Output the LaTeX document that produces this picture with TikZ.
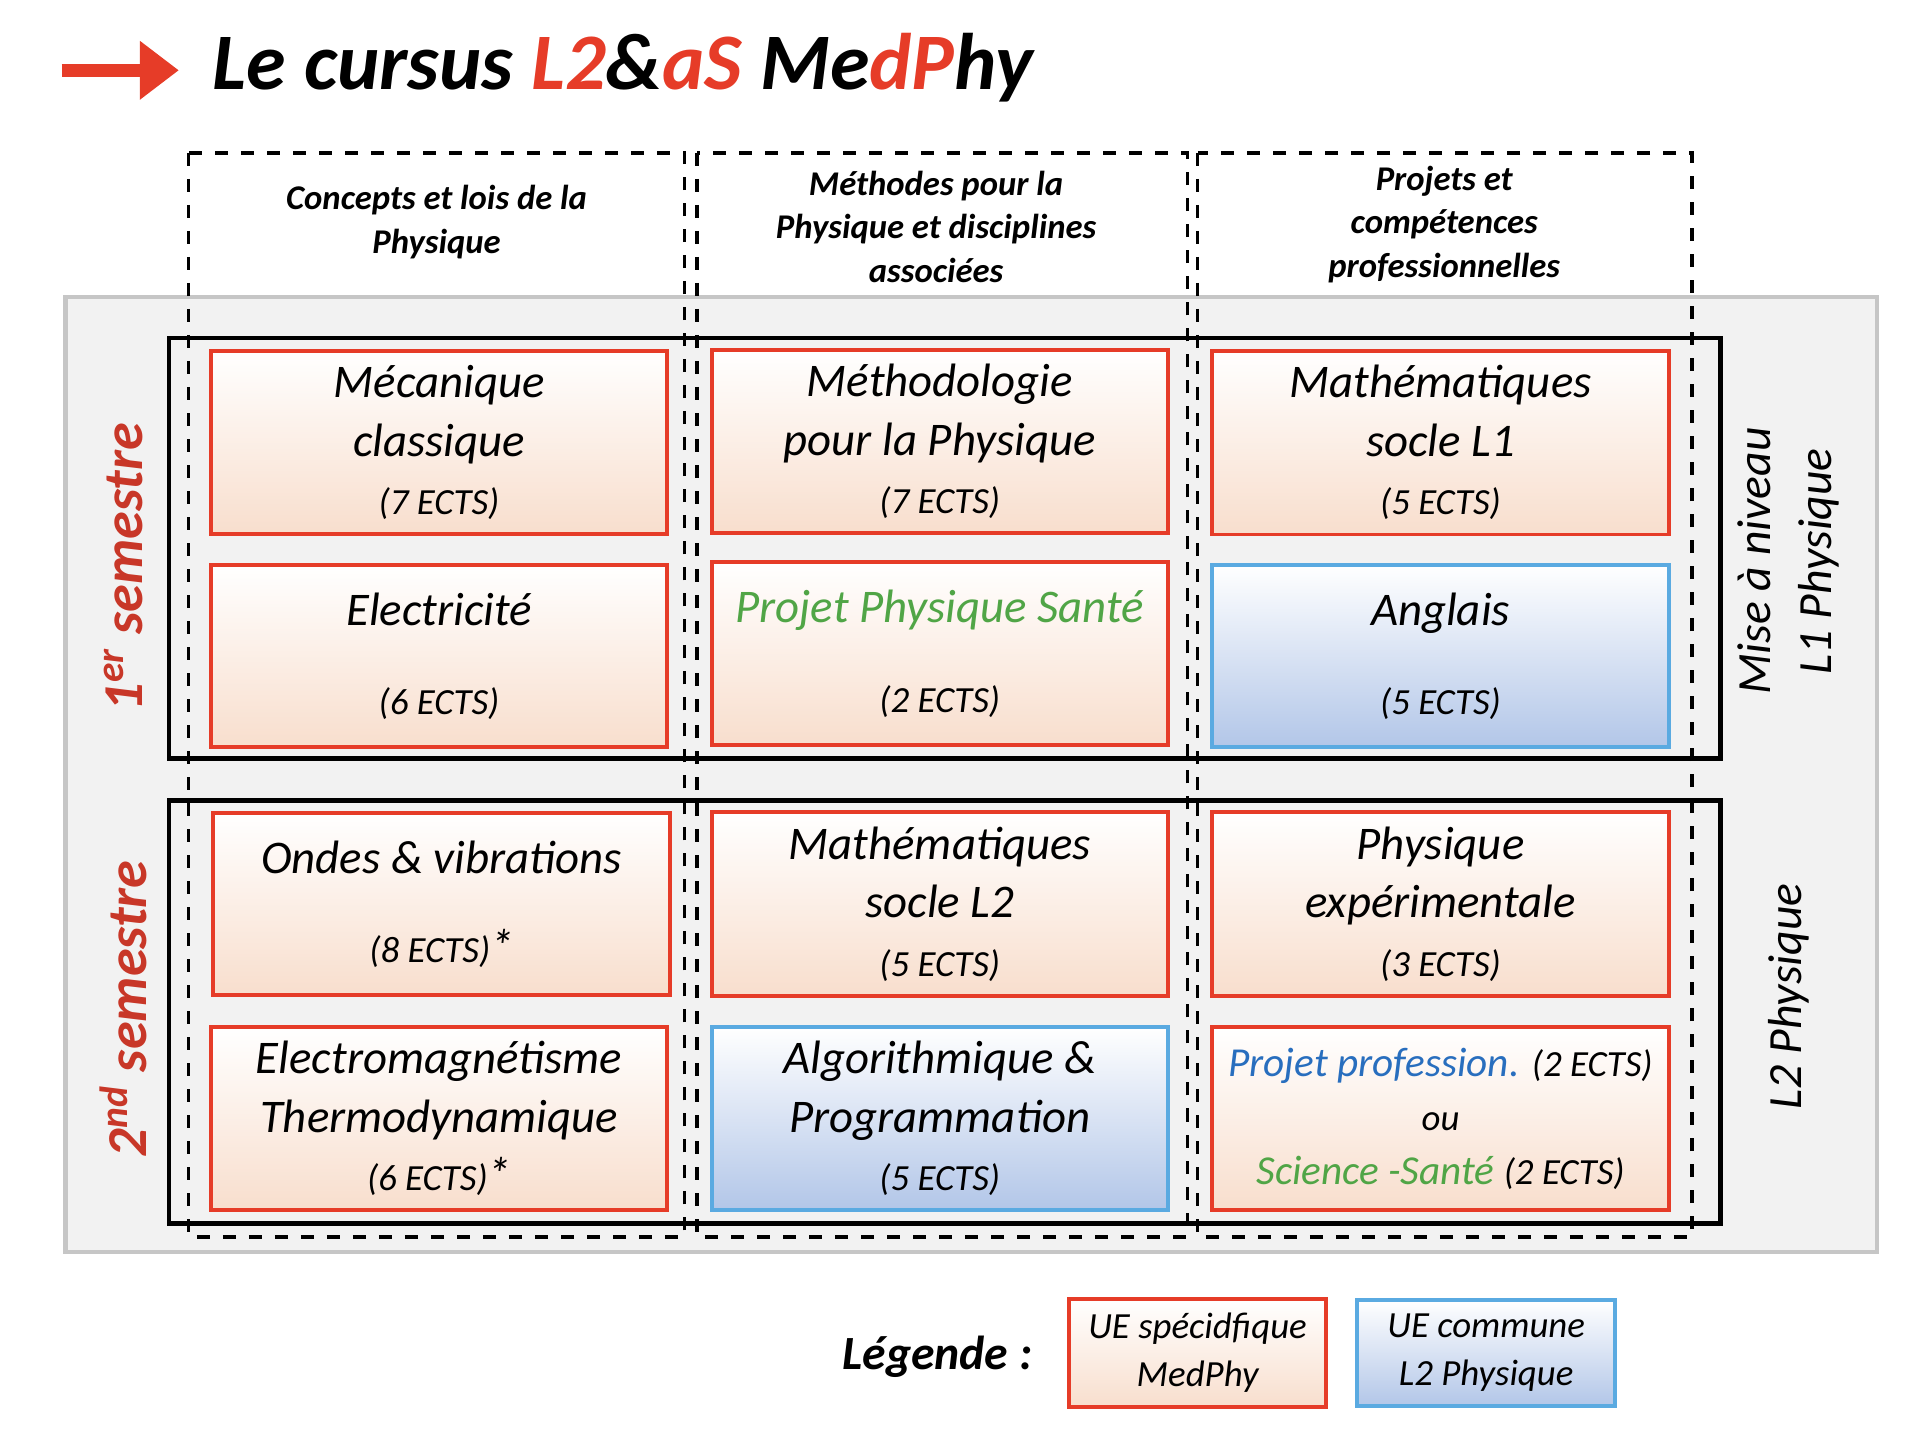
\documentclass[tikz,border=0pt]{standalone}
\usepackage{fontspec}
\usetikzlibrary{arrows.meta}
\setmainfont{Carlito}
\definecolor{uered}{RGB}{230,60,40}
\definecolor{ueblue}{RGB}{90,170,225}
\definecolor{peach}{RGB}{248,222,205}
\definecolor{lblue}{RGB}{178,198,232}
\definecolor{semred}{RGB}{200,55,40}
\definecolor{santegreen}{RGB}{80,165,70}
\definecolor{profblue}{RGB}{40,110,190}
\begin{document}
\begin{tikzpicture}[x=0.1mm,y=-0.1mm,
  red ue/.style={draw=uered, line width=0.9pt, top color=white, middle color=white, bottom color=peach, minimum width=37mm, minimum height=14.8mm, align=center, font=\itshape\fontsize{10.8}{13.5}\selectfont},
  blue ue/.style={red ue, draw=ueblue, bottom color=lblue},
  column box/.style={draw, dashed, line width=0.8pt},
  semester box/.style={draw, line width=1pt},
  header/.style={align=center, font=\bfseries\itshape\fontsize{8}{10}\selectfont},
  semester/.style={rotate=90, text=semred, font=\bfseries\itshape\fontsize{13}{15}\selectfont}]
  \useasboundingbox (0,0) rectangle (1560,1160);
  \newcommand{\ects}[1]{{\fontsize{8.5}{10}\selectfont(#1)}}

  % title
  \node[anchor=west, font=\bfseries\itshape\fontsize{18.5}{22}\selectfont] (title) at (160,55) {Le cursus \textcolor{uered}{L2}\&\textcolor{uered}{aS} Me\textcolor{uered}{d}\textcolor{uered}{P}hy};
  \coordinate (arrowstart) at (50,57);
  \draw[uered, line width=3pt, -{Triangle[length=9pt,width=13pt]}] (arrowstart) -- ([xshift=-1.5mm]title.west |- arrowstart);

  % background and frames
  \draw[gray!45, fill=gray!10, line width=1pt] (53,241) rectangle (1522,1015);
  \draw[column box] (153,124) rectangle (555,1003);
  \draw[column box] (565,124) rectangle (963,1003);
  \draw[column box] (971,124) rectangle (1372,1003);
  \draw[semester box] (137,274) rectangle (1395,615);
  \draw[semester box] (137,649) rectangle (1395,992);

  % column headers
  \node[header] (h1) at (354,180) {Concepts et lois de la\\Physique};
  \node[header] (h2) at (759,184) {Méthodes pour la\\Physique et disciplines\\associées};
  \node[header] (h3) at (1171,182) {Projets et\\compétences\\professionnelles};

  % 1st semester
  \node[red ue] (meca) at (356,359) {Mécanique\\classique\\\ects{7 ECTS}};
  \node[red ue] (elec) at (356,532) {Electricité\\[2.5mm]\ects{6 ECTS}};
  \node[red ue] (metho) at (762,358) {Méthodologie\\pour la Physique\\\ects{7 ECTS}};
  \node[red ue] (pps) at (762,530) {\textcolor{santegreen}{Projet Physique Santé}\\[2.5mm]\ects{2 ECTS}};
  \node[red ue] (math1) at (1168,359) {Mathématiques\\socle L1\\\ects{5 ECTS}};
  \node[blue ue] (angl) at (1168,532) {Anglais\\[2.5mm]\ects{5 ECTS}};

  % 2nd semester
  \node[red ue] (ondes) at (358,733) {Ondes \& vibrations\\[2.5mm]\ects{8 ECTS}*};
  \node[red ue] (em) at (356,907) {Electromagnétisme\\Thermodynamique\\\ects{6 ECTS}*};
  \node[red ue] (math2) at (762,733) {Mathématiques\\socle L2\\\ects{5 ECTS}};
  \node[blue ue] (algo) at (762,907) {Algorithmique \&\\Programmation\\\ects{5 ECTS}};
  \node[red ue] (physexp) at (1168,733) {Physique\\expérimentale\\\ects{3 ECTS}};
  \node[red ue, font=\itshape\fontsize{9.5}{12.5}\selectfont] (projet) at (1168,907) {\textcolor{profblue}{Projet profession.} \ects{2 ECTS}\\{\fontsize{8.5}{10}\selectfont ou}\\\textcolor{santegreen}{Science -Santé} \ects{2 ECTS}};

  % side labels
  \node[semester] (sem1) at (100,460) {1\textsuperscript{er} semestre};
  \node[semester] (sem2) at (100,818) {2\textsuperscript{nd} semestre};
  \node[rotate=90, align=center, font=\itshape\fontsize{11}{14}\selectfont] (mise) at (1450,455) {Mise à niveau\\L1 Physique};
  \node[rotate=90, font=\itshape\fontsize{11}{14}\selectfont] (l2) at (1450,808) {L2 Physique};

  % legend
  \node[font=\bfseries\itshape\fontsize{11}{13}\selectfont] (leg) at (760,1100) {Légende :};
  \node[red ue, minimum width=20.8mm, minimum height=8.5mm, font=\itshape\fontsize{8.5}{11}\selectfont] (legred) at (971,1097) {UE spécidfique\\MedPhy};
  \node[blue ue, minimum width=20.9mm, minimum height=8.6mm, font=\itshape\fontsize{8.5}{11}\selectfont] (legblue) at (1205,1097) {UE commune\\L2 Physique};
\end{tikzpicture}
\end{document}
